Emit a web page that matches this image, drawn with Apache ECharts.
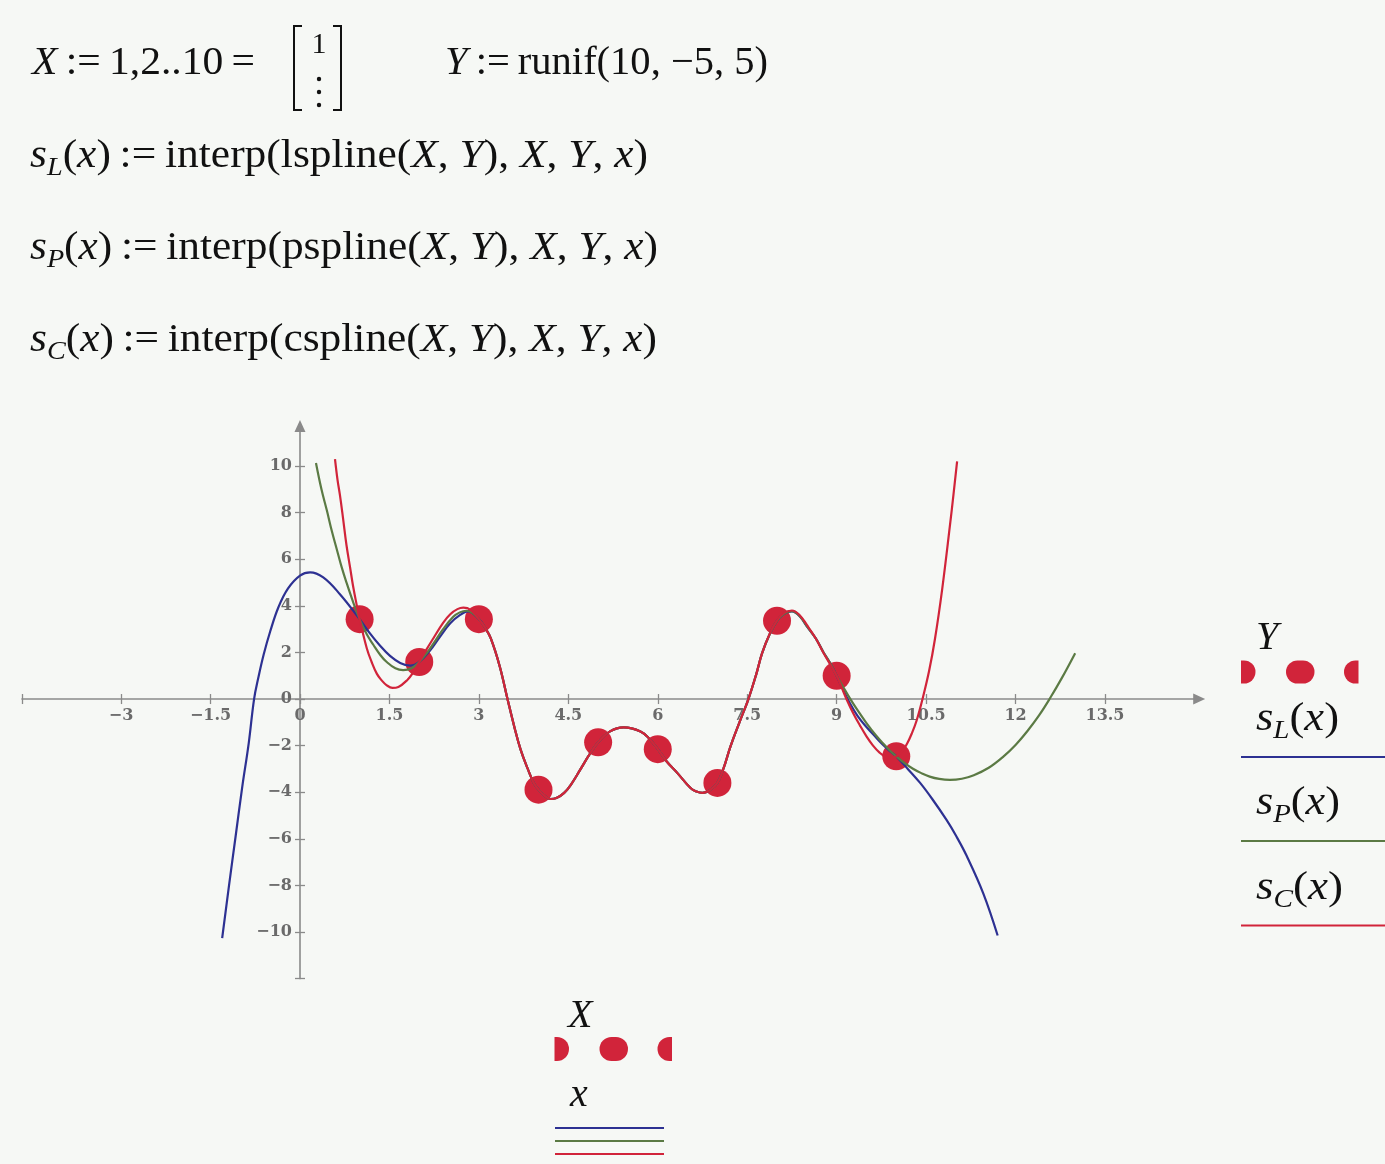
<!DOCTYPE html>
<html><head><meta charset="utf-8">
<script src="https://cdn.jsdelivr.net/npm/echarts@6/dist/echarts.min.js"></script>
<style>html,body{margin:0;padding:0;background:#f6f8f5;}#c{width:1385px;height:1164px;}</style>
</head><body><div id="c"></div>
<script>
// ---------------- data ----------------
const X = [1, 2, 3, 4, 5, 6, 7, 8, 9, 10];
const Y = [3.43, 1.59, 3.43, -3.89, -1.86, -2.15, -3.6, 3.36, 1.0, -2.46];

// s_L(x) : lspline interpolation (blue)
const sL = [[-1.305,-10.26],[-1.19,-8.0],[-1.08,-5.9],[-0.97,-3.8],[-0.86,-1.9],[-0.77,0],[-0.70,0.9],[-0.61,1.9],[-0.50,2.9],[-0.36,3.95],[-0.20,4.75],[0,5.3],[0.17,5.44],[0.39,5.22],[0.67,4.5],[1.0,3.43],[1.17,2.83],[1.34,2.3],[1.51,1.85],[1.68,1.55],[1.85,1.43],[2.0,1.59],[2.18,2.08],[2.35,2.68],[2.52,3.25],[2.68,3.6],[2.82,3.76],[3.0,3.43],
 [3.1,3.08],[3.2,2.6],[3.35,1.4],[3.48,0],[3.6,-1.25],[3.7,-2.17],[3.82,-3.0],[3.92,-3.6],[4.0,-3.89],[4.1,-4.15],[4.2,-4.29],[4.3,-4.25],[4.43,-4.03],[4.55,-3.65],[4.7,-3.03],[4.85,-2.4],[5.0,-1.86],[5.2,-1.39],[5.43,-1.22],[5.71,-1.39],[5.85,-1.68],[6.0,-2.15],[6.15,-2.68],[6.33,-3.18],[6.55,-3.82],[6.65,-3.97],[6.75,-4.03],[6.88,-3.9],[7.0,-3.6],[7.1,-3.0],[7.22,-2.03],[7.37,-1.0],[7.52,0],[7.65,1.05],[7.75,1.97],[7.88,2.8],[8.0,3.36],[8.12,3.66],[8.25,3.76],[8.38,3.55],[8.5,3.12],[8.65,2.6],[8.78,2.0],[8.9,1.5],[9.0,1.0],
 [9.1,0.45],[9.22,-0.17],[9.35,-0.72],[9.5,-1.2],[9.65,-1.62],[9.78,-1.97],[9.9,-2.25],[10.0,-2.46],[10.2,-3.02],[10.4,-3.6],[10.6,-4.28],[10.84,-5.18],[11.0,-5.86],[11.18,-6.73],[11.46,-8.35],[11.7,-10.15]];

// s_P(x) : pspline interpolation (green)
const sP = [[0.268,10.13],[0.36,9.0],[0.45,8.1],[0.535,7.2],[0.62,6.4],[0.7,5.65],[0.78,5.0],[0.9,4.1],[1.0,3.43],[1.12,2.78],[1.23,2.33],[1.35,1.88],[1.45,1.6],[1.6,1.32],[1.73,1.24],[1.87,1.32],[2.0,1.59],[2.12,1.95],[2.24,2.39],[2.4,3.0],[2.57,3.53],[2.68,3.72],[2.79,3.79],[2.9,3.68],[3.0,3.43],
 [3.1,3.08],[3.2,2.6],[3.35,1.4],[3.48,0],[3.6,-1.25],[3.7,-2.17],[3.82,-3.0],[3.92,-3.6],[4.0,-3.89],[4.1,-4.15],[4.2,-4.29],[4.3,-4.25],[4.43,-4.03],[4.55,-3.65],[4.7,-3.03],[4.85,-2.4],[5.0,-1.86],[5.2,-1.39],[5.43,-1.22],[5.71,-1.39],[5.85,-1.68],[6.0,-2.15],[6.15,-2.68],[6.33,-3.18],[6.55,-3.82],[6.65,-3.97],[6.75,-4.03],[6.88,-3.9],[7.0,-3.6],[7.1,-3.0],[7.22,-2.03],[7.37,-1.0],[7.52,0],[7.65,1.05],[7.75,1.97],[7.88,2.8],[8.0,3.36],[8.12,3.66],[8.25,3.77],[8.38,3.56],[8.5,3.13],[8.65,2.6],[8.78,2.0],[8.9,1.5],[9.0,1.0],
 [9.1,0.56],[9.22,0.04],[9.35,-0.48],[9.5,-1.03],[9.65,-1.53],[9.78,-1.91],[9.9,-2.23],[10.0,-2.46],[10.14,-2.75],[10.28,-2.99],[10.42,-3.18],[10.56,-3.33],[10.72,-3.43],[10.9,-3.47],[11.1,-3.42],[11.3,-3.27],[11.55,-2.95],[11.8,-2.46],[12.0,-1.97],[12.2,-1.37],[12.4,-0.68],[12.57,0],[12.78,0.92],[13.0,1.97]];

// s_C(x) : cspline interpolation (red)
const sC = [[0.587,10.3],[0.63,9.4],[0.67,8.75],[0.72,7.8],[0.78,6.6],[0.84,5.65],[0.89,4.85],[0.95,4.05],[1.0,3.43],[1.12,2.18],[1.2,1.6],[1.29,1.08],[1.37,0.8],[1.45,0.6],[1.55,0.48],[1.65,0.52],[1.8,0.82],[1.9,1.15],[2.0,1.59],[2.12,2.12],[2.24,2.62],[2.4,3.27],[2.52,3.64],[2.64,3.86],[2.74,3.92],[2.86,3.83],[3.0,3.43],
 [3.1,3.08],[3.2,2.6],[3.35,1.4],[3.48,0],[3.6,-1.25],[3.7,-2.17],[3.82,-3.0],[3.92,-3.6],[4.0,-3.89],[4.1,-4.15],[4.2,-4.29],[4.3,-4.25],[4.43,-4.03],[4.55,-3.65],[4.7,-3.03],[4.85,-2.4],[5.0,-1.86],[5.2,-1.39],[5.43,-1.22],[5.71,-1.39],[5.85,-1.68],[6.0,-2.15],[6.15,-2.68],[6.33,-3.18],[6.55,-3.82],[6.65,-3.97],[6.75,-4.03],[6.88,-3.9],[7.0,-3.6],[7.1,-3.0],[7.22,-2.03],[7.37,-1.0],[7.52,0],[7.65,1.05],[7.75,1.97],[7.88,2.82],[8.0,3.38],[8.12,3.7],[8.25,3.8],[8.38,3.6],[8.5,3.18],[8.65,2.6],[8.78,1.98],[8.9,1.45],[9.0,1.0],
 [9.08,0.52],[9.17,-0.03],[9.28,-0.62],[9.39,-1.13],[9.5,-1.6],[9.61,-2.0],[9.72,-2.3],[9.82,-2.48],[9.92,-2.53],[10.0,-2.46],[10.1,-2.24],[10.18,-1.92],[10.26,-1.48],[10.34,-0.93],[10.44,0],[10.55,1.2],[10.65,2.6],[10.77,4.72],[10.9,7.45],[10.96,8.8],[11.02,10.2]];

// axis ticks / labels
const X_LABELS = [-3, -1.5, 0, 1.5, 3, 4.5, 6, 7.5, 9, 10.5, 12, 13.5];
const Y_LABELS = [-10, -8, -6, -4, -2, 0, 2, 4, 6, 8, 10];

// ---------------- layout / style ----------------
const XMIN = -4.662, XMAX = 15.08, YMIN = -12, YMAX = 11.72;
const GL = 22, GT = 426, GW = 1177.2, GH = 552.6;
// offsets that bring each axis onto the zero line of the other one
const X_OFF = -((0 - YMIN) / (YMAX - YMIN)) * GH;
const Y_OFF = -((0 - XMIN) / (XMAX - XMIN)) * GW;
const X_TICKS = [XMIN].concat(X_LABELS);
const Y_TICKS = [YMIN].concat(Y_LABELS);
const AXIS = '#8a8a8a';
const BLUE = '#2d3192', GREEN = '#5b7a44', RED = '#d1243a';
const BG = '#f6f8f5';
const FONT = 'Liberation Serif';
const FS = 40;
const RICH = {
  r:   {fontFamily: FONT, fontSize: FS, lineHeight: 50, verticalAlign: 'middle', fill: '#111'},
  i:   {fontFamily: FONT, fontSize: FS, fontStyle: 'italic', lineHeight: 50, verticalAlign: 'middle', fill: '#111'},
  sub: {fontFamily: FONT, fontSize: 26, fontStyle: 'italic', lineHeight: 24, verticalAlign: 'bottom', fill: '#111'},
  m:   {fontFamily: FONT, fontSize: 30, lineHeight: 50, verticalAlign: 'middle', fill: '#111'}
};
const mctx = document.createElement('canvas').getContext('2d');
function segWidth(segs) {
  let w = 0;
  segs.forEach(function (s) {
    const st = RICH[s[1]];
    mctx.font = (st.fontStyle || 'normal') + ' normal ' + st.fontSize + 'px "' + FONT + '"';
    w += mctx.measureText(s[0]).width;
  });
  return w;
}
function mathText(segs, x, baseline, targetW) {
  const w = segWidth(segs);
  const sx = targetW ? targetW / w : 1;
  return {
    type: 'text', x: x, y: baseline - 0.3375 * FS, scaleX: sx, silent: true, z: 10,
    style: {
      text: segs.map(function (s) { return '{' + s[1] + '|' + s[0] + '}'; }).join(''),
      rich: RICH, verticalAlign: 'middle', align: 'left', x: 0, y: 0
    }
  };
}
function fn(sub, kind) {
  return [['s','i'],[sub,'sub'],['(','r'],['x','i'],[')\u2009:=\u2009interp(' + kind + '(','r'],['X','i'],[', ','r'],['Y','i'],['), ','r'],['X','i'],[', ','r'],['Y','i'],[', ','r'],['x','i'],[')','r']];
}
function legFn(sub) { return [['s','i'],[sub,'sub'],['(','r'],['x','i'],[')','r']]; }
function hline(x1, x2, y, color) {
  return {type: 'line', silent: true, shape: {x1: x1, y1: y, x2: x2, y2: y}, style: {stroke: color, lineWidth: 2}};
}
function rrect(x, y, w, h, r) {
  return {type: 'rect', silent: true, shape: {x: x, y: y, width: w, height: h, r: r}, style: {fill: RED}};
}
function dotsMarker(x0, y, h) {
  const r = h / 2;
  return [rrect(x0, y - r, 14.5, h, [0, r, r, 0]), rrect(x0 + 45, y - r, 28.5, h, r), rrect(x0 + 103, y - r, 14.5, h, [r, 0, 0, r])];
}

const graphics = [
  mathText([['X','i'],['\u2009:=\u20091,2..10\u2009=','r']], 32, 77, 223),
  mathText([['Y','i'],['\u2009:=\u2009runif(10, \u22125, 5)','r']], 445, 77, 323),
  mathText(fn('L','lspline'), 30, 170, 618),
  mathText(fn('P','pspline'), 30, 262, 628),
  mathText(fn('C','cspline'), 30, 354, 627),
  // matrix
  {type: 'polyline', silent: true, shape: {points: [[302,26],[294,26],[294,110],[302,110]]}, style: {stroke: '#111', lineWidth: 2, fill: null}},
  {type: 'polyline', silent: true, shape: {points: [[333,26],[341,26],[341,110],[333,110]]}, style: {stroke: '#111', lineWidth: 2, fill: null}},
  {type: 'text', silent: true, x: 319, y: 45, style: {text: '{m|1}', rich: RICH, align: 'center', verticalAlign: 'middle'}},
  {type: 'circle', silent: true, shape: {cx: 319, cy: 79, r: 2.2}, style: {fill: '#111'}},
  {type: 'circle', silent: true, shape: {cx: 319, cy: 92, r: 2.2}, style: {fill: '#111'}},
  {type: 'circle', silent: true, shape: {cx: 319, cy: 105, r: 2.2}, style: {fill: '#111'}},
  // right legend (y traces)
  mathText([['Y','i']], 1256, 652),
  mathText(legFn('L'), 1256, 733, 83),
  mathText(legFn('P'), 1256, 817, 84),
  mathText(legFn('C'), 1256, 901.5, 87),
  hline(1241, 1385, 757, BLUE),
  hline(1241, 1385, 841, GREEN),
  hline(1241, 1385, 925.5, RED),
  // bottom legend (x traces)
  mathText([['X','i']], 568, 1030),
  mathText([['x','i']], 570, 1109),
  hline(555, 664, 1128, BLUE),
  hline(555, 664, 1141, GREEN),
  hline(555, 664, 1154, RED)
].concat(dotsMarker(1241, 672, 23)).concat(dotsMarker(554.5, 1049, 24));

function fmt(v) { return String(v).replace('-', '\u2212'); }
const labelStyle = {color: '#6a6a6a', fontFamily: 'DejaVu Serif', fontWeight: 'bold', fontSize: 16};

function xAxisCfg(main) {
  return {
    type: 'value', min: XMIN, max: XMAX, position: 'bottom', offset: X_OFF,
    axisLine: main ? {show: true, onZero: false, lineStyle: {color: AXIS, width: 1.6}, symbol: ['none', 'triangle'], symbolSize: [11, 12]}
                   : {show: false, onZero: false},
    axisTick: {show: true, inside: !main, length: 5, customValues: X_TICKS, lineStyle: {color: AXIS, width: 1.3}},
    axisLabel: main ? Object.assign({show: true, customValues: X_LABELS, formatter: fmt, margin: 9}, labelStyle) : {show: false},
    splitLine: {show: false}
  };
}
function yAxisCfg(main) {
  return {
    type: 'value', min: YMIN, max: YMAX, position: 'left', offset: Y_OFF,
    axisLine: main ? {show: true, onZero: false, lineStyle: {color: AXIS, width: 1.6}, symbol: ['none', 'triangle'], symbolSize: [11, 12]}
                   : {show: false, onZero: false},
    axisTick: {show: true, inside: !main, length: 5, customValues: Y_TICKS, lineStyle: {color: AXIS, width: 1.3}},
    axisLabel: main ? Object.assign({show: true, customValues: Y_LABELS, formatter: fmt, margin: 8}, labelStyle) : {show: false},
    splitLine: {show: false}
  };
}

const option = {
  backgroundColor: BG,
  animation: false,
  grid: {left: GL, top: GT, width: GW, height: GH, containLabel: false, outerBoundsMode: 'none'},
  xAxis: [xAxisCfg(true), xAxisCfg(false)],
  yAxis: [yAxisCfg(true), yAxisCfg(false)],
  series: [
    {type: 'scatter', silent: true, data: X.map(function (x, i) { return [x, Y[i]]; }), symbolSize: 28, itemStyle: {color: RED, opacity: 1}, z: 2},
    {type: 'line', silent: true, data: sL, showSymbol: false, smooth: 0.4, lineStyle: {color: BLUE, width: 2.2}, z: 3},
    {type: 'line', silent: true, data: sP, showSymbol: false, smooth: 0.4, lineStyle: {color: GREEN, width: 2.2}, z: 3},
    {type: 'line', silent: true, data: sC, showSymbol: false, smooth: 0.4, lineStyle: {color: RED, width: 2.2}, z: 3}
  ],
  graphic: graphics
};
const chart = echarts.init(document.getElementById('c'), null, {renderer: 'canvas'});
chart.setOption(option);
</script>
</body></html>
